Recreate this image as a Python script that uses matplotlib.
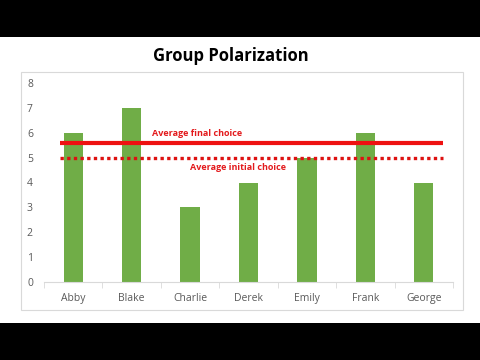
import numpy as np
import matplotlib.pyplot as plt
from matplotlib.patches import Rectangle

names = ['Abby', 'Blake', 'Charlie', 'Derek', 'Emily', 'Frank', 'George']
choices = [6, 7, 3, 4, 5, 6, 4]
avg_initial = 5.0
avg_final = 5.6

fig = plt.figure(figsize=(4.8, 3.6), dpi=100)
fig.patch.set_facecolor('black')
# white slide area between the black bands
fig.patches.append(Rectangle((0, 37/360), 1, 286/360, transform=fig.transFigure,
                             facecolor='white', edgecolor='none', zorder=0))
# chart frame
fig.patches.append(Rectangle((21/480, 50/360), 442/480, 238/360, transform=fig.transFigure,
                             facecolor='white', edgecolor='#d9d9d9', lw=0.8, zorder=1))

ax = fig.add_axes([44/480, 78/360, 409/480, 199/360])
ax.set_facecolor('none')
ax.set_zorder(2)

x = np.arange(len(names))
ax.bar(x, choices, width=0.33, color='#70ad47', zorder=2)

ax.plot([-0.23, 6.33], [avg_final, avg_final], color='#ee1111', lw=3.0, zorder=3,
        solid_capstyle='butt')
ax.plot([-0.23, 6.33], [avg_initial, avg_initial], color='#dd1111', lw=2.4, zorder=3,
        linestyle=(0, (1, 1)), dash_capstyle='butt')

ax.text(1.35, 5.95, 'Average final choice', color='#e31a1c', fontsize=6.5,
        fontweight='bold', family='Open Sans', va='center', ha='left')
ax.text(2.0, 4.6, 'Average initial choice', color='#e31a1c', fontsize=6.5,
        fontweight='bold', family='Open Sans', va='center', ha='left')

ax.set_xlim(-0.5, len(names) - 0.5)
ax.set_ylim(0, 8)
ax.set_yticks(range(0, 9))
ax.set_xticks(x)
ax.set_xticklabels(names)
ax.set_xticks(np.arange(len(names) + 1) - 0.5, minor=True)
for s in ['top', 'right', 'left']:
    ax.spines[s].set_visible(False)
ax.spines['bottom'].set_color('#d9d9d9')
ax.tick_params(axis='x', which='major', length=0, pad=8)
ax.tick_params(axis='x', which='minor', length=4, color='#d9d9d9', direction='out')
ax.tick_params(axis='y', length=0, pad=8)
for lab in ax.get_xticklabels() + ax.get_yticklabels():
    lab.set_fontsize(7.5)
    lab.set_color('#595959')
    lab.set_family('Open Sans')

fig.text(231/480, 1 - 56/360, 'Group Polarization', ha='center', va='center',
         fontsize=12, fontweight='bold', family='Open Sans', color='black')

fig.savefig('out.png', dpi=100, facecolor=fig.get_facecolor())
